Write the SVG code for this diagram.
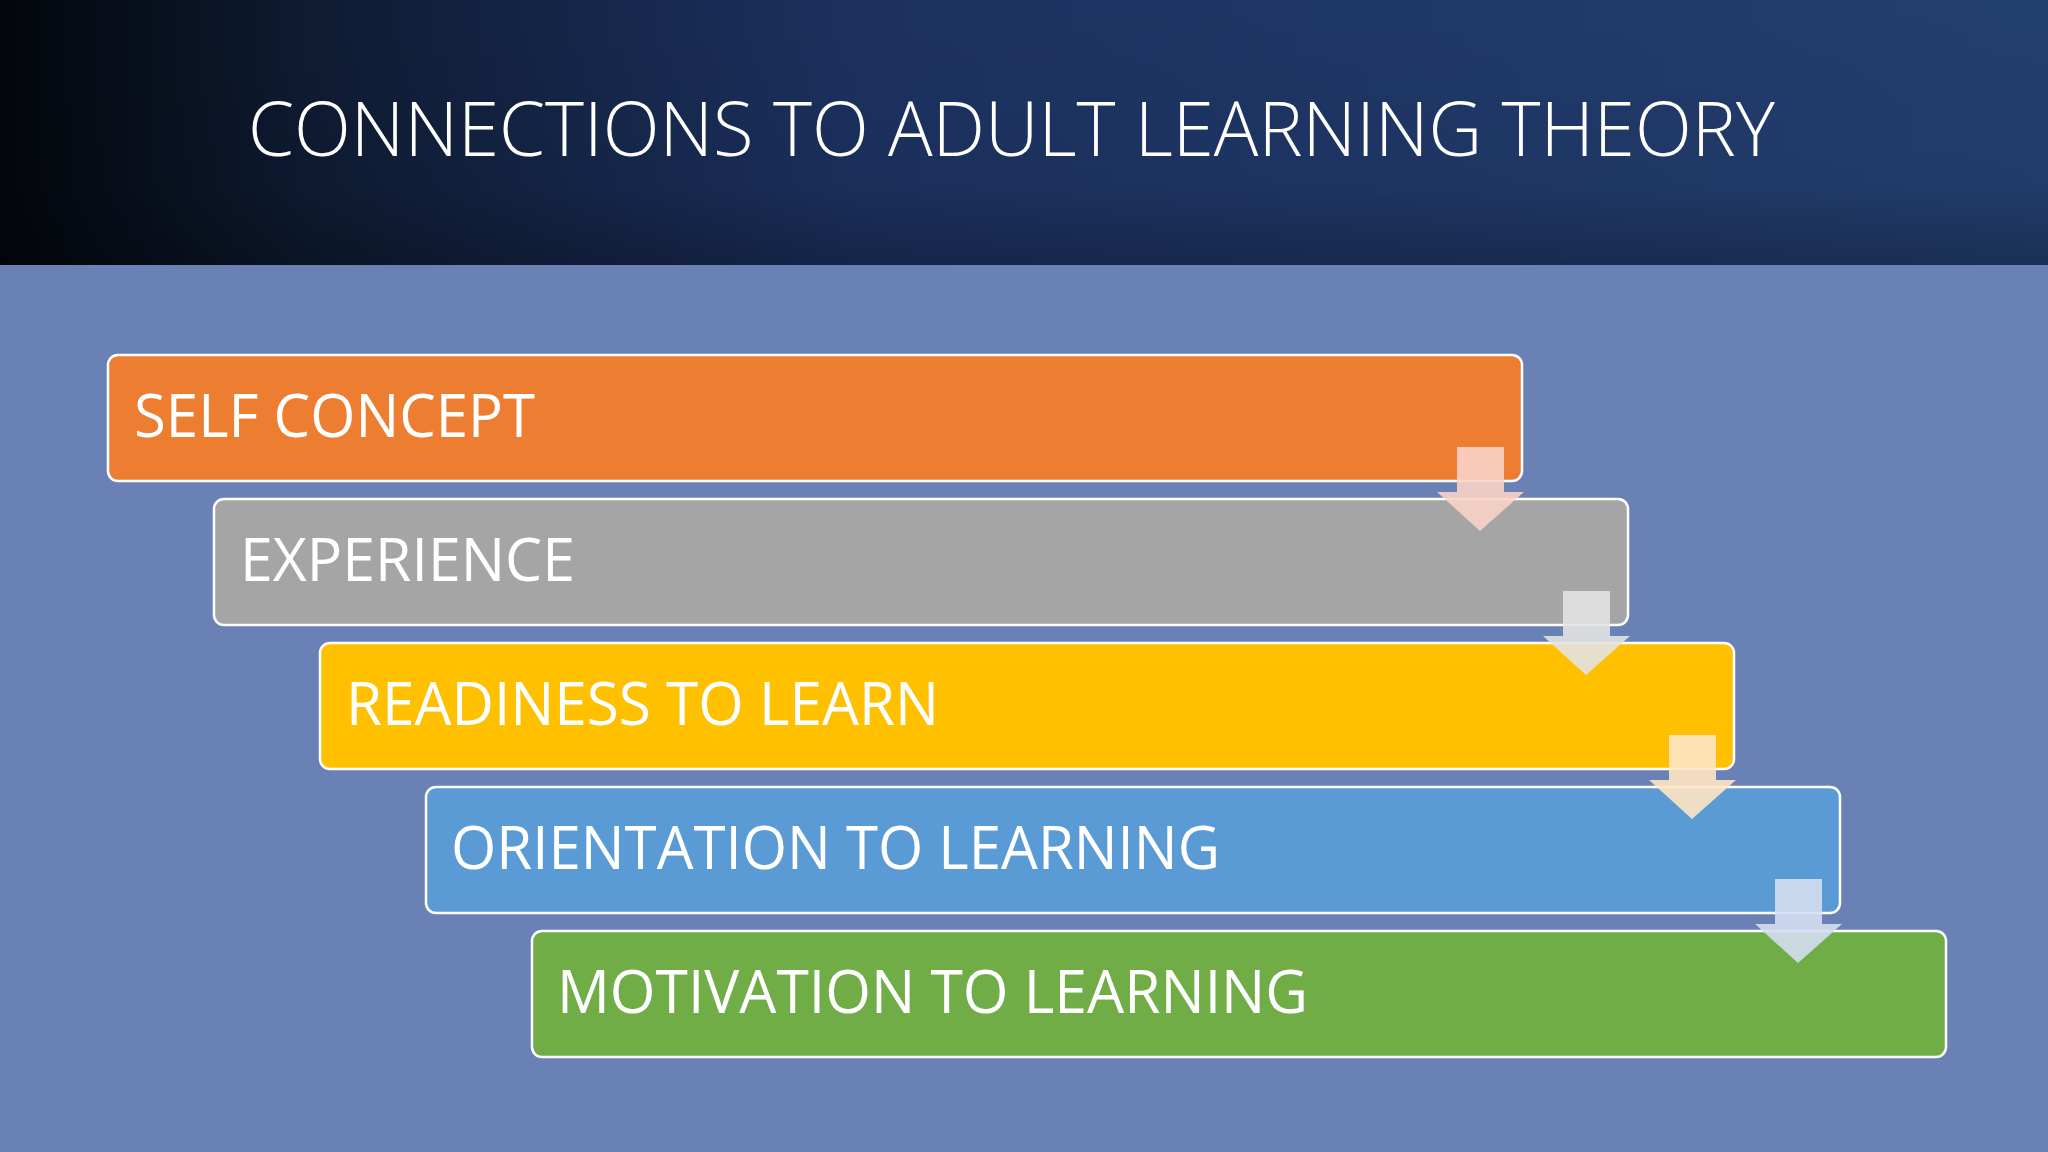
<svg xmlns="http://www.w3.org/2000/svg" width="2048" height="1152" viewBox="0 0 2048 1152">
<defs>
<linearGradient id="hdr" x1="0" y1="0" x2="1" y2="0">
<stop offset="0" stop-color="#03060b"/>
<stop offset="0.15" stop-color="#0e1b32"/>
<stop offset="0.42" stop-color="#1c3160"/>
<stop offset="1" stop-color="#233f70"/>
</linearGradient>
<linearGradient id="hdrv" x1="0" y1="0" x2="0" y2="1">
<stop offset="0" stop-color="#000" stop-opacity="0"/>
<stop offset="0.7" stop-color="#000" stop-opacity="0.05"/>
<stop offset="1" stop-color="#000" stop-opacity="0.25"/>
</linearGradient>
<style>
.box{stroke:#ffffff;stroke-width:2.5}
.lbl{font-family:"Open Sans","Liberation Sans",sans-serif;font-size:60px;fill:#ffffff}
.ttl{font-family:"Open Sans","Liberation Sans",sans-serif;font-weight:300;font-size:76px;fill:#ffffff}
.arr{opacity:0.9}
</style>
</defs>
<rect x="0" y="0" width="2048" height="1152" fill="#6981b4"/>
<g id="header">
<rect x="0" y="0" width="2048" height="265" fill="url(#hdr)"/>
<rect x="0" y="0" width="2048" height="265" fill="url(#hdrv)"/>
<text class="ttl" x="248" y="156" textLength="1527" lengthAdjust="spacingAndGlyphs">CONNECTIONS TO ADULT LEARNING THEORY</text>
</g>
<g id="node-self-concept">
<rect class="box" x="108" y="355" width="1414" height="126" rx="10" fill="#ed7d31"/>
<text class="lbl" x="134" y="437" textLength="401" lengthAdjust="spacingAndGlyphs">SELF CONCEPT</text>
</g>
<g id="node-experience">
<rect class="box" x="214" y="499" width="1414" height="126" rx="10" fill="#a5a5a5"/>
<text class="lbl" x="240" y="581" textLength="335" lengthAdjust="spacingAndGlyphs">EXPERIENCE</text>
</g>
<g id="node-readiness">
<rect class="box" x="320" y="643" width="1414" height="126" rx="10" fill="#ffc000"/>
<text class="lbl" x="346" y="725" textLength="593" lengthAdjust="spacingAndGlyphs">READINESS TO LEARN</text>
</g>
<g id="node-orientation">
<rect class="box" x="426" y="787" width="1414" height="126" rx="10" fill="#5b9bd5"/>
<text class="lbl" x="451" y="869" textLength="769" lengthAdjust="spacingAndGlyphs">ORIENTATION TO LEARNING</text>
</g>
<g id="node-motivation">
<rect class="box" x="532" y="931" width="1414" height="126" rx="10" fill="#70ad47"/>
<text class="lbl" x="557" y="1013" textLength="751" lengthAdjust="spacingAndGlyphs">MOTIVATION TO LEARNING</text>
</g>
<g id="connectors">
<path class="arr" fill="#fad3c6" d="M1457 447 H1504 V492 H1524 L1480 531 L1437 492 H1457 Z"/>
<path class="arr" fill="#e2e2e2" d="M1563 591 H1610 V636 H1630 L1586 675 L1543 636 H1563 Z"/>
<path class="arr" fill="#ffe6c4" d="M1669 735 H1716 V780 H1736 L1692 819 L1649 780 H1669 Z"/>
<path class="arr" fill="#d3def0" d="M1775 879 H1822 V924 H1842 L1798 963 L1755 924 H1775 Z"/>
</g>
</svg>
